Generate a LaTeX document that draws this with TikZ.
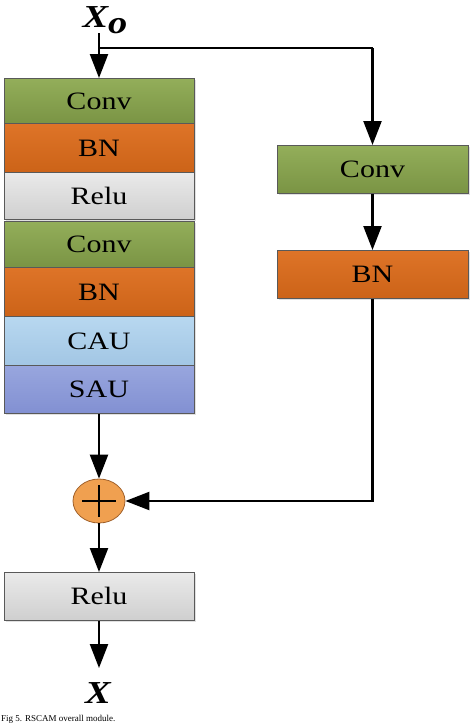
\documentclass[tikz,border=0pt]{standalone}
\usepackage{fontspec}
\setmainfont{Liberation Serif}
\newfontfamily\boxfont[FakeStretch=1.2]{Liberation Serif}
\usetikzlibrary{arrows.meta,shadows,shapes.geometric}
\definecolor{gtop}{HTML}{93AE5A}
\definecolor{gbot}{HTML}{7A9444}
\definecolor{otop}{HTML}{DE7428}
\definecolor{obot}{HTML}{CC6318}
\definecolor{rtop}{HTML}{EAEAEA}
\definecolor{rbot}{HTML}{CFCFCF}
\definecolor{ctop}{HTML}{B8D8F0}
\definecolor{cbot}{HTML}{A2C6E4}
\definecolor{stop}{HTML}{98A6DE}
\definecolor{sbot}{HTML}{8290D2}
\definecolor{addfill}{HTML}{F0A050}
\definecolor{addline}{HTML}{A0602A}
\begin{document}
\begin{tikzpicture}[x=1pt,y=-1pt,
  blk/.style={draw=black!65, line width=0.8pt, minimum width=190pt, inner sep=0pt,
    anchor=north, font=\boxfont\fontsize{25}{25}\selectfont,
    drop shadow={shadow xshift=2pt,shadow yshift=-2pt,opacity=0.12,fill=black}},
  convb/.style={blk, top color=gtop, bottom color=gbot},
  bnb/.style={blk, top color=otop, bottom color=obot},
  relub/.style={blk, top color=rtop, bottom color=rbot},
  caub/.style={blk, top color=ctop, bottom color=cbot},
  saub/.style={blk, top color=stop, bottom color=sbot},
  arr/.style={line width=2.3pt, -{Triangle[length=24pt,width=18pt]}},
  ln/.style={line width=2.3pt},
  lbl/.style={font=\boxfont\fontsize{32}{32}\selectfont\bfseries\itshape, inner sep=0pt}
]
\useasboundingbox (0,0) rectangle (474,724);
% left column
\node[convb, minimum height=45pt] (conv1) at (99,78) {Conv};
\node[bnb, minimum height=49pt] (bn1) at (99,123) {BN};
\node[relub, minimum height=47pt] (relu1) at (99,172) {Relu};
\node[convb, minimum height=46pt] (conv2) at (99,221) {Conv};
\node[bnb, minimum height=49pt] (bn2) at (99,267) {BN};
\node[caub, minimum height=49pt] (cau) at (99,316) {CAU};
\node[saub, minimum height=48pt] (sau) at (99,365) {SAU};
% right column
\node[convb, minimum width=191pt, minimum height=48pt] (convr) at (372.5,145) {Conv};
\node[bnb, minimum width=191pt, minimum height=48pt] (bnr) at (372.5,250) {BN};
% add
\node[ellipse, draw=addline, line width=0.8pt, fill=addfill, minimum width=52pt, minimum height=44pt, inner sep=0pt] (add) at (99,501) {};
\draw[line width=2.3pt] (add.center) ++(-17,0) -- ++(34,0);
\draw[line width=2.3pt] (add.center) ++(0,-16) -- ++(0,32);
% output relu
\node[relub, minimum height=48pt] (relu2) at (99,572) {Relu};
% labels
\node[lbl, anchor=base] (x0) at (105,27) {X\raisebox{-6pt}{o}};
\node[lbl, anchor=base] (xout) at (98,703) {X};
\coordinate (x0s) at (99,33);
\coordinate (br) at (99,48);
\coordinate (xe) at (99,668);
% connectors
\draw[arr] (x0s) -- (conv1.north);
\draw[ln] (br) -- (br -| convr.north);
\draw[arr] (br -| convr.north) -- (convr.north);
\draw[arr] (convr.south) -- (bnr.north);
\draw[arr] (bnr.south) |- (add.east);
\draw[arr] (sau.south) -- (add.north);
\draw[arr] (add.south) -- (relu2.north);
\draw[arr] (relu2.south) -- (xe);
% caption
\node[anchor=base west, inner sep=0pt, font=\fontsize{9}{9}\selectfont] (cap) at (1,721) {Fig 5. RSCAM overall module.};
\end{tikzpicture}
\end{document}
